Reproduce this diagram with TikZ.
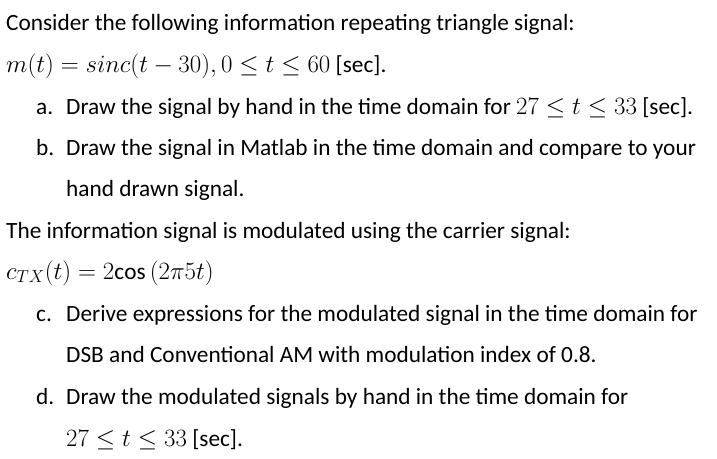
\documentclass[tikz,border=0pt]{standalone}
\usepackage{fontspec}
\setmainfont{Carlito}
\begin{document}
\begin{tikzpicture}[x=1pt,y=-1pt,
  txt/.style={anchor=base west,inner sep=0pt,font=\fontsize{23.3}{28}\selectfont}]
\useasboundingbox (0,0) rectangle (717,458);
\node[txt] (l1) at (6,30) {Consider the following information repeating triangle signal:};
\node[txt] (l2) at (6,72) {$m(t)=sinc(t-30), 0\le t\le 60$ [sec].};
\node[txt] (a) at (36,114) {a.};
\node[txt] (at) at (66,114) {Draw the signal by hand in the time domain for $27\le t\le 33$ [sec].};
\node[txt] (b) at (36,155) {b.};
\node[txt] (bt) at (66,155) {Draw the signal in Matlab in the time domain and compare to your};
\node[txt] (bt2) at (66,196) {hand drawn signal.};
\node[txt] (l3) at (6,238) {The information signal is modulated using the carrier signal:};
\node[txt] (l4) at (6,279) {$c_{TX}(t)=2\mathrm{cos}\,(2\pi5t)$};
\node[txt] (c) at (36,321) {c.};
\node[txt] (ct) at (66,321) {Derive expressions for the modulated signal in the time domain for};
\node[txt] (ct2) at (66,362) {DSB and Conventional AM with modulation index of 0.8.};
\node[txt] (d) at (36,404) {d.};
\node[txt] (dt) at (66,404) {Draw the modulated signals by hand in the time domain for};
\node[txt] (dt2) at (66,446) {$27\le t\le 33$ [sec].};
\end{tikzpicture}
\end{document}
